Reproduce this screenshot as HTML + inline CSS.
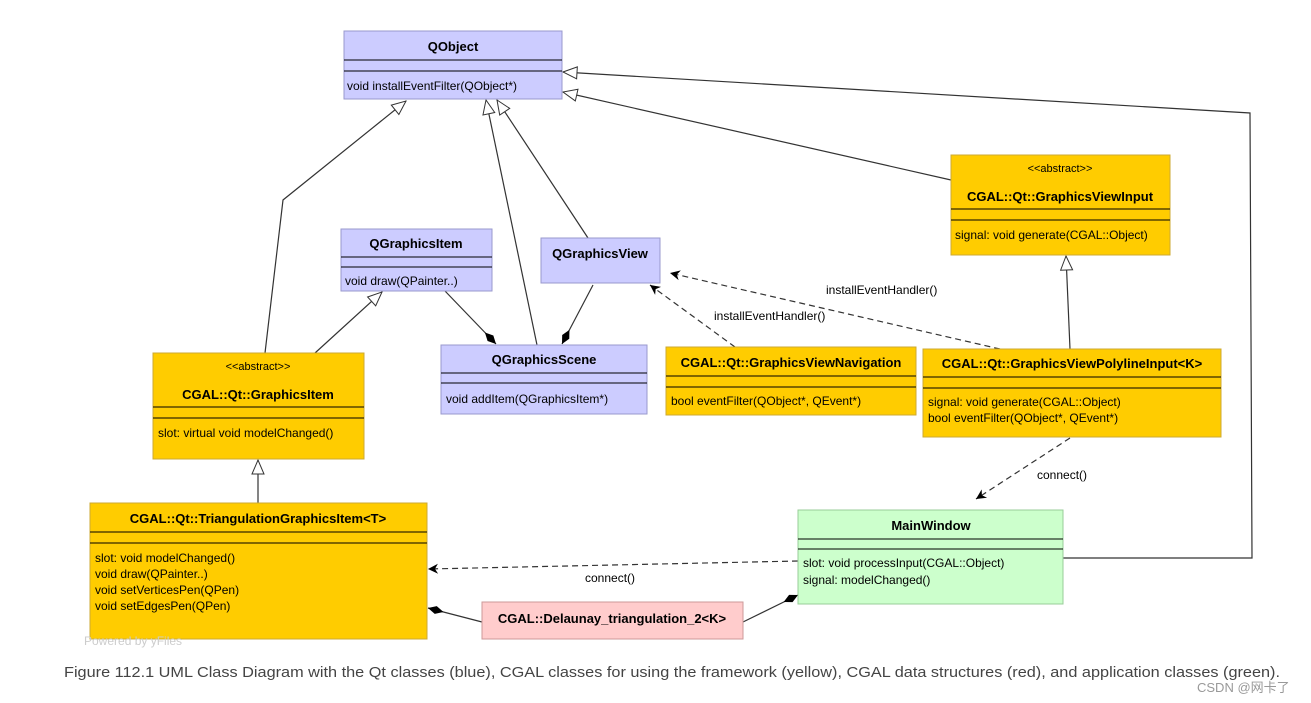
<!DOCTYPE html>
<html><head><meta charset="utf-8"><style>
body{margin:0;background:#fff;}
svg{display:block;font-family:"Liberation Sans",Arial,sans-serif;}
.t{font-weight:bold;font-size:13px;text-anchor:middle;fill:#000}
.m{font-size:12px;fill:#000}
.s{font-size:11px;text-anchor:middle;fill:#000}
.l{font-size:12px;fill:#000}
</style></head><body>
<svg width="1311" height="703" viewBox="0 0 1311 703">
<defs>
<marker id="tri" markerWidth="16" markerHeight="14" refX="15" refY="7" orient="auto" markerUnits="userSpaceOnUse"><path d="M1,1 L15,7 L1,13 Z" fill="#fff" stroke="#333" stroke-width="1"/></marker>
<marker id="dia" markerWidth="18" markerHeight="10" refX="17" refY="5" orient="auto" markerUnits="userSpaceOnUse"><path d="M1,5 L9,1 L17,5 L9,9 Z" fill="#000"/></marker>
<marker id="arr" markerWidth="12" markerHeight="12" refX="11" refY="6" orient="auto" markerUnits="userSpaceOnUse"><path d="M1,1 L11,6 L1,11 L4,6 Z" fill="#000"/></marker>
</defs>
<g stroke="#333" stroke-width="1.2" fill="none">
<polyline points="265,353 283,200 406,101" marker-end="url(#tri)"/>
<line x1="315" y1="353" x2="382" y2="292" marker-end="url(#tri)"/>
<line x1="537" y1="345" x2="486" y2="100" marker-end="url(#tri)"/>
<line x1="588" y1="238" x2="497" y2="100" marker-end="url(#tri)"/>
<line x1="951" y1="180" x2="563" y2="92" marker-end="url(#tri)"/>
<polyline points="1063,558 1252,558 1250,113 563,72" marker-end="url(#tri)"/>
<line x1="1070" y1="349" x2="1066" y2="256" marker-end="url(#tri)"/>
<line x1="258" y1="503" x2="258" y2="460" marker-end="url(#tri)"/>
<line x1="445" y1="291" x2="496" y2="344" marker-end="url(#dia)"/>
<line x1="593" y1="285" x2="562" y2="344" marker-end="url(#dia)"/>
<line x1="482" y1="622" x2="428" y2="608" marker-end="url(#dia)"/>
<line x1="743" y1="622" x2="798" y2="595" marker-end="url(#dia)"/>
<g stroke-dasharray="6,4">
<line x1="735" y1="347" x2="650" y2="285" marker-end="url(#arr)"/>
<line x1="1000" y1="349" x2="670" y2="273" marker-end="url(#arr)"/>
<line x1="1070" y1="438" x2="976" y2="499" marker-end="url(#arr)"/>
<line x1="798" y1="561" x2="428" y2="569" marker-end="url(#arr)"/>
</g>
</g>
<g stroke-width="1">
<rect x="344" y="31" width="218" height="68" fill="#ccccff" stroke="#9999cc"/>
<line x1="344" y1="60" x2="562" y2="60" stroke="#000"/><line x1="344" y1="71" x2="562" y2="71" stroke="#000"/>
<text class="t" x="453" y="51">QObject</text>
<text class="m" x="347" y="90">void installEventFilter(QObject*)</text>
<rect x="341" y="229" width="151" height="62" fill="#ccccff" stroke="#9999cc"/>
<line x1="341" y1="257" x2="492" y2="257" stroke="#000"/><line x1="341" y1="267" x2="492" y2="267" stroke="#000"/>
<text class="t" x="416" y="248">QGraphicsItem</text>
<text class="m" x="345" y="285">void draw(QPainter..)</text>
<rect x="541" y="238" width="119" height="45" fill="#ccccff" stroke="#9999cc"/>
<text class="t" x="600" y="258">QGraphicsView</text>
<rect x="441" y="345" width="206" height="69" fill="#ccccff" stroke="#9999cc"/>
<line x1="441" y1="373" x2="647" y2="373" stroke="#000"/><line x1="441" y1="383" x2="647" y2="383" stroke="#000"/>
<text class="t" x="544" y="364">QGraphicsScene</text>
<text class="m" x="446" y="403">void addItem(QGraphicsItem*)</text>
<rect x="153" y="353" width="211" height="106" fill="#ffcc00" stroke="#ccaa33"/>
<line x1="153" y1="407" x2="364" y2="407" stroke="#000"/><line x1="153" y1="418" x2="364" y2="418" stroke="#000"/>
<text class="s" x="258" y="370">&lt;&lt;abstract&gt;&gt;</text>
<text class="t" x="258" y="399">CGAL::Qt::GraphicsItem</text>
<text class="m" x="158" y="437">slot: virtual void modelChanged()</text>
<rect x="90" y="503" width="337" height="136" fill="#ffcc00" stroke="#ccaa33"/>
<line x1="90" y1="532" x2="427" y2="532" stroke="#000"/><line x1="90" y1="543" x2="427" y2="543" stroke="#000"/>
<text class="t" x="258" y="523">CGAL::Qt::TriangulationGraphicsItem&lt;T&gt;</text>
<text class="m" x="95" y="562">slot: void modelChanged()</text>
<text class="m" x="95" y="578">void draw(QPainter..)</text>
<text class="m" x="95" y="594">void setVerticesPen(QPen)</text>
<text class="m" x="95" y="610">void setEdgesPen(QPen)</text>
<text x="84" y="645" font-size="12" fill="#ccc">Powered by yFiles</text>
<rect x="951" y="155" width="219" height="100" fill="#ffcc00" stroke="#ccaa33"/>
<line x1="951" y1="209" x2="1170" y2="209" stroke="#000"/><line x1="951" y1="220" x2="1170" y2="220" stroke="#000"/>
<text class="s" x="1060" y="172">&lt;&lt;abstract&gt;&gt;</text>
<text class="t" x="1060" y="201">CGAL::Qt::GraphicsViewInput</text>
<text class="m" x="955" y="239">signal: void generate(CGAL::Object)</text>
<rect x="666" y="347" width="250" height="68" fill="#ffcc00" stroke="#ccaa33"/>
<line x1="666" y1="376" x2="916" y2="376" stroke="#000"/><line x1="666" y1="387" x2="916" y2="387" stroke="#000"/>
<text class="t" x="791" y="367">CGAL::Qt::GraphicsViewNavigation</text>
<text class="m" x="671" y="405">bool eventFilter(QObject*, QEvent*)</text>
<rect x="923" y="349" width="298" height="88" fill="#ffcc00" stroke="#ccaa33"/>
<line x1="923" y1="377" x2="1221" y2="377" stroke="#000"/><line x1="923" y1="388" x2="1221" y2="388" stroke="#000"/>
<text class="t" x="1072" y="368">CGAL::Qt::GraphicsViewPolylineInput&lt;K&gt;</text>
<text class="m" x="928" y="406">signal: void generate(CGAL::Object)</text>
<text class="m" x="928" y="422">bool eventFilter(QObject*, QEvent*)</text>
<rect x="798" y="510" width="265" height="94" fill="#ccffcc" stroke="#99cc99"/>
<line x1="798" y1="539" x2="1063" y2="539" stroke="#000"/><line x1="798" y1="549" x2="1063" y2="549" stroke="#000"/>
<text class="t" x="931" y="530">MainWindow</text>
<text class="m" x="803" y="567">slot: void processInput(CGAL::Object)</text>
<text class="m" x="803" y="584">signal: modelChanged()</text>
<rect x="482" y="602" width="261" height="37" fill="#ffcccc" stroke="#cc9999"/>
<text class="t" x="612" y="623">CGAL::Delaunay_triangulation_2&lt;K&gt;</text>
</g>
<text class="l" x="826" y="294">installEventHandler()</text>
<text class="l" x="714" y="320">installEventHandler()</text>
<text class="l" x="1037" y="479">connect()</text>
<text class="l" x="585" y="582">connect()</text>
<text x="64" y="677" font-size="15" fill="#444" textLength="1216" lengthAdjust="spacingAndGlyphs">Figure 112.1 UML Class Diagram with the Qt classes (blue), CGAL classes for using the framework (yellow), CGAL data structures (red), and application classes (green).</text>
<text x="1197" y="692" font-size="13" fill="#999" font-family="'Liberation Sans','Noto Sans CJK SC',sans-serif">CSDN @网卡了</text>
</svg>
</body></html>
